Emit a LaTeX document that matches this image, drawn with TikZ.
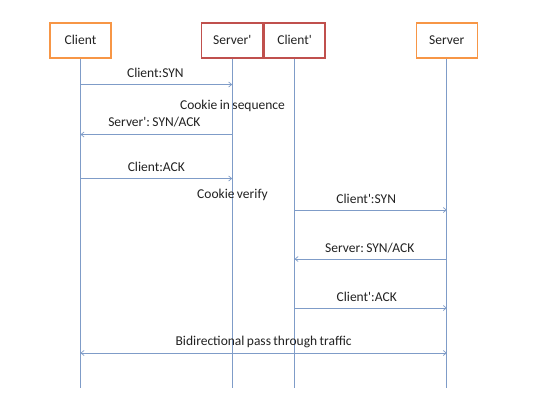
\documentclass[tikz,border=0pt]{standalone}
\usepackage{fontspec}
\setmainfont{Carlito}[Ligatures=TeXOff]
\usetikzlibrary{arrows.meta}
\definecolor{orangebox}{HTML}{F79646}
\definecolor{redbox}{HTML}{C0504D}
\definecolor{lineblue}{HTML}{7F9CC8}
\definecolor{txt}{HTML}{222222}
\frenchspacing
\newcommand{\lblfont}{\fontsize{13.5}{15}\selectfont\spaceskip=0.18em plus 0.05em minus 0.05em\relax}
\begin{document}
\begin{tikzpicture}[x=1pt,y=-1pt,
  every node/.style={font=\lblfont, text=txt},
  actorbox/.style={draw, line width=1.5pt, minimum width=61pt, minimum height=35pt, inner sep=0pt},
  orangeactor/.style={actorbox, draw=orangebox},
  redactor/.style={actorbox, draw=redbox},
  life/.style={draw=lineblue, line width=0.7pt},
  msg/.style={draw=lineblue, line width=0.7pt, -{Straight Barb[length=3pt,width=5pt]}},
  bimsg/.style={draw=lineblue, line width=0.7pt, {Straight Barb[length=3pt,width=5pt]}-{Straight Barb[length=3pt,width=5pt]}},
  lbl/.style={inner sep=0pt, anchor=base}
]
\useasboundingbox (0,0) rectangle (536,402);
\fill[white] (0,0) rectangle (536,402);

\node[orangeactor] (client) at (80.5,40.3) {Client};
\node[redactor] (serverp) at (232.2,40.3) {Server'};
\node[redactor] (clientp) at (294.6,40.3) {Client'};
\node[orangeactor] (server) at (446.8,40.3) {Server};

\coordinate (cEnd) at (80.5,388);
\coordinate (spEnd) at (232.2,388);
\coordinate (cpEnd) at (294.6,388);
\coordinate (sEnd) at (446.8,388);
\draw[life] (client.south) -- (cEnd);
\draw[life] (serverp.south) -- (spEnd);
\draw[life] (clientp.south) -- (cpEnd);
\draw[life] (server.south) -- (sEnd);

% messages
\coordinate (m1a) at (80.5,84.5); \coordinate (m1b) at (232.2,84.5);
\draw[msg] (m1a) -- (m1b) node[lbl, midway, yshift=7pt, xshift=-1pt] (l1) {Client:SYN};

\node[lbl] (ck1) at (232.5,109.5) {Cookie in sequence};

\coordinate (m2a) at (232.2,134.5); \coordinate (m2b) at (80.5,134.5);
\draw[msg] (m2a) -- (m2b) node[lbl, midway, yshift=8pt, xshift=-2pt] (l2) {Server': SYN/ACK};

\coordinate (m3a) at (80.5,178.5); \coordinate (m3b) at (232.2,178.5);
\draw[msg] (m3a) -- (m3b) node[lbl, midway, yshift=7pt] (l3) {Client:ACK};

\node[lbl] (ck2) at (232.5,198) {Cookie verify};

\coordinate (m4a) at (294.6,210); \coordinate (m4b) at (446.8,210);
\draw[msg] (m4a) -- (m4b) node[lbl, midway, yshift=7pt, xshift=-4.5pt] (l4) {Client':SYN};

\coordinate (m5a) at (446.8,259); \coordinate (m5b) at (294.6,259);
\draw[msg] (m5a) -- (m5b) node[lbl, midway, yshift=6.5pt, xshift=-1pt] (l5) {Server: SYN/ACK};

\coordinate (m6a) at (294.6,308); \coordinate (m6b) at (446.8,308);
\draw[msg] (m6a) -- (m6b) node[lbl, midway, yshift=7pt, xshift=-4pt] (l6) {Client':ACK};

\coordinate (m7a) at (80.5,353); \coordinate (m7b) at (446.8,353);
\draw[bimsg] (m7a) -- (m7b) node[lbl, midway, yshift=7.5pt] (l7) {Bidirectional pass through traffic};
\end{tikzpicture}
\end{document}
